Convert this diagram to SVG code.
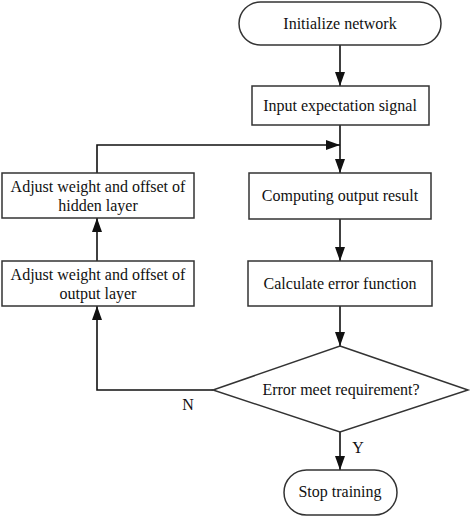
<svg xmlns="http://www.w3.org/2000/svg" width="474" height="518" viewBox="0 0 474 518">
<style>
.box{fill:#fff;stroke:#333;stroke-width:1.5}
.t{font-family:"Liberation Serif","Times New Roman",serif;font-size:16px;fill:#111;text-anchor:middle}
.c{fill:none;stroke:#111;stroke-width:1.6}
</style>
<defs>
<marker id="a" markerWidth="14" markerHeight="10" refX="14" refY="5" orient="auto" markerUnits="userSpaceOnUse" viewBox="0 0 14 10">
<path d="M0,0 L14,5 L0,10 Z" fill="#111"/>
</marker>
</defs>
<g id="connectors">
<path class="c" d="M340,45 V86" marker-end="url(#a)"/>
<path class="c" d="M340,125 V173" marker-end="url(#a)"/>
<path class="c" d="M97,173 V145 H340" marker-end="url(#a)"/>
<path class="c" d="M340,219 V261" marker-end="url(#a)"/>
<path class="c" d="M340,306 V346" marker-end="url(#a)"/>
<path class="c" d="M213,390 H97 V306" marker-end="url(#a)"/>
<path class="c" d="M97,261 V218" marker-end="url(#a)"/>
<path class="c" d="M340,432 V470" marker-end="url(#a)"/>
<text class="t" x="188" y="410">N</text>
<text class="t" x="358" y="453">Y</text>
</g>
<g id="init">
<rect class="box" x="239" y="2" width="202" height="43" rx="21.5"/>
<text class="t" x="340" y="29">Initialize network</text>
</g>
<g id="input">
<rect class="box" x="252" y="86" width="177" height="39"/>
<text class="t" x="340" y="111">Input expectation signal</text>
</g>
<g id="compute">
<rect class="box" x="249" y="173" width="182" height="46"/>
<text class="t" x="340" y="201">Computing output result</text>
</g>
<g id="error">
<rect class="box" x="248" y="261" width="184" height="45"/>
<text class="t" x="340" y="289">Calculate error function</text>
</g>
<g id="hidden">
<rect class="box" x="2" y="173" width="192" height="45"/>
<text class="t" x="98" y="192">Adjust weight and offset of</text>
<text class="t" x="98" y="211">hidden layer</text>
</g>
<g id="output">
<rect class="box" x="2" y="261" width="192" height="45"/>
<text class="t" x="98" y="280">Adjust weight and offset of</text>
<text class="t" x="98" y="299">output layer</text>
</g>
<g id="decision">
<polygon class="box" points="340,346 468,390 340,432 213,390"/>
<text class="t" x="341" y="395">Error meet requirement?</text>
</g>
<g id="stop">
<rect class="box" x="284" y="470" width="113" height="45" rx="22.5"/>
<text class="t" x="340" y="497">Stop training</text>
</g>
</svg>
